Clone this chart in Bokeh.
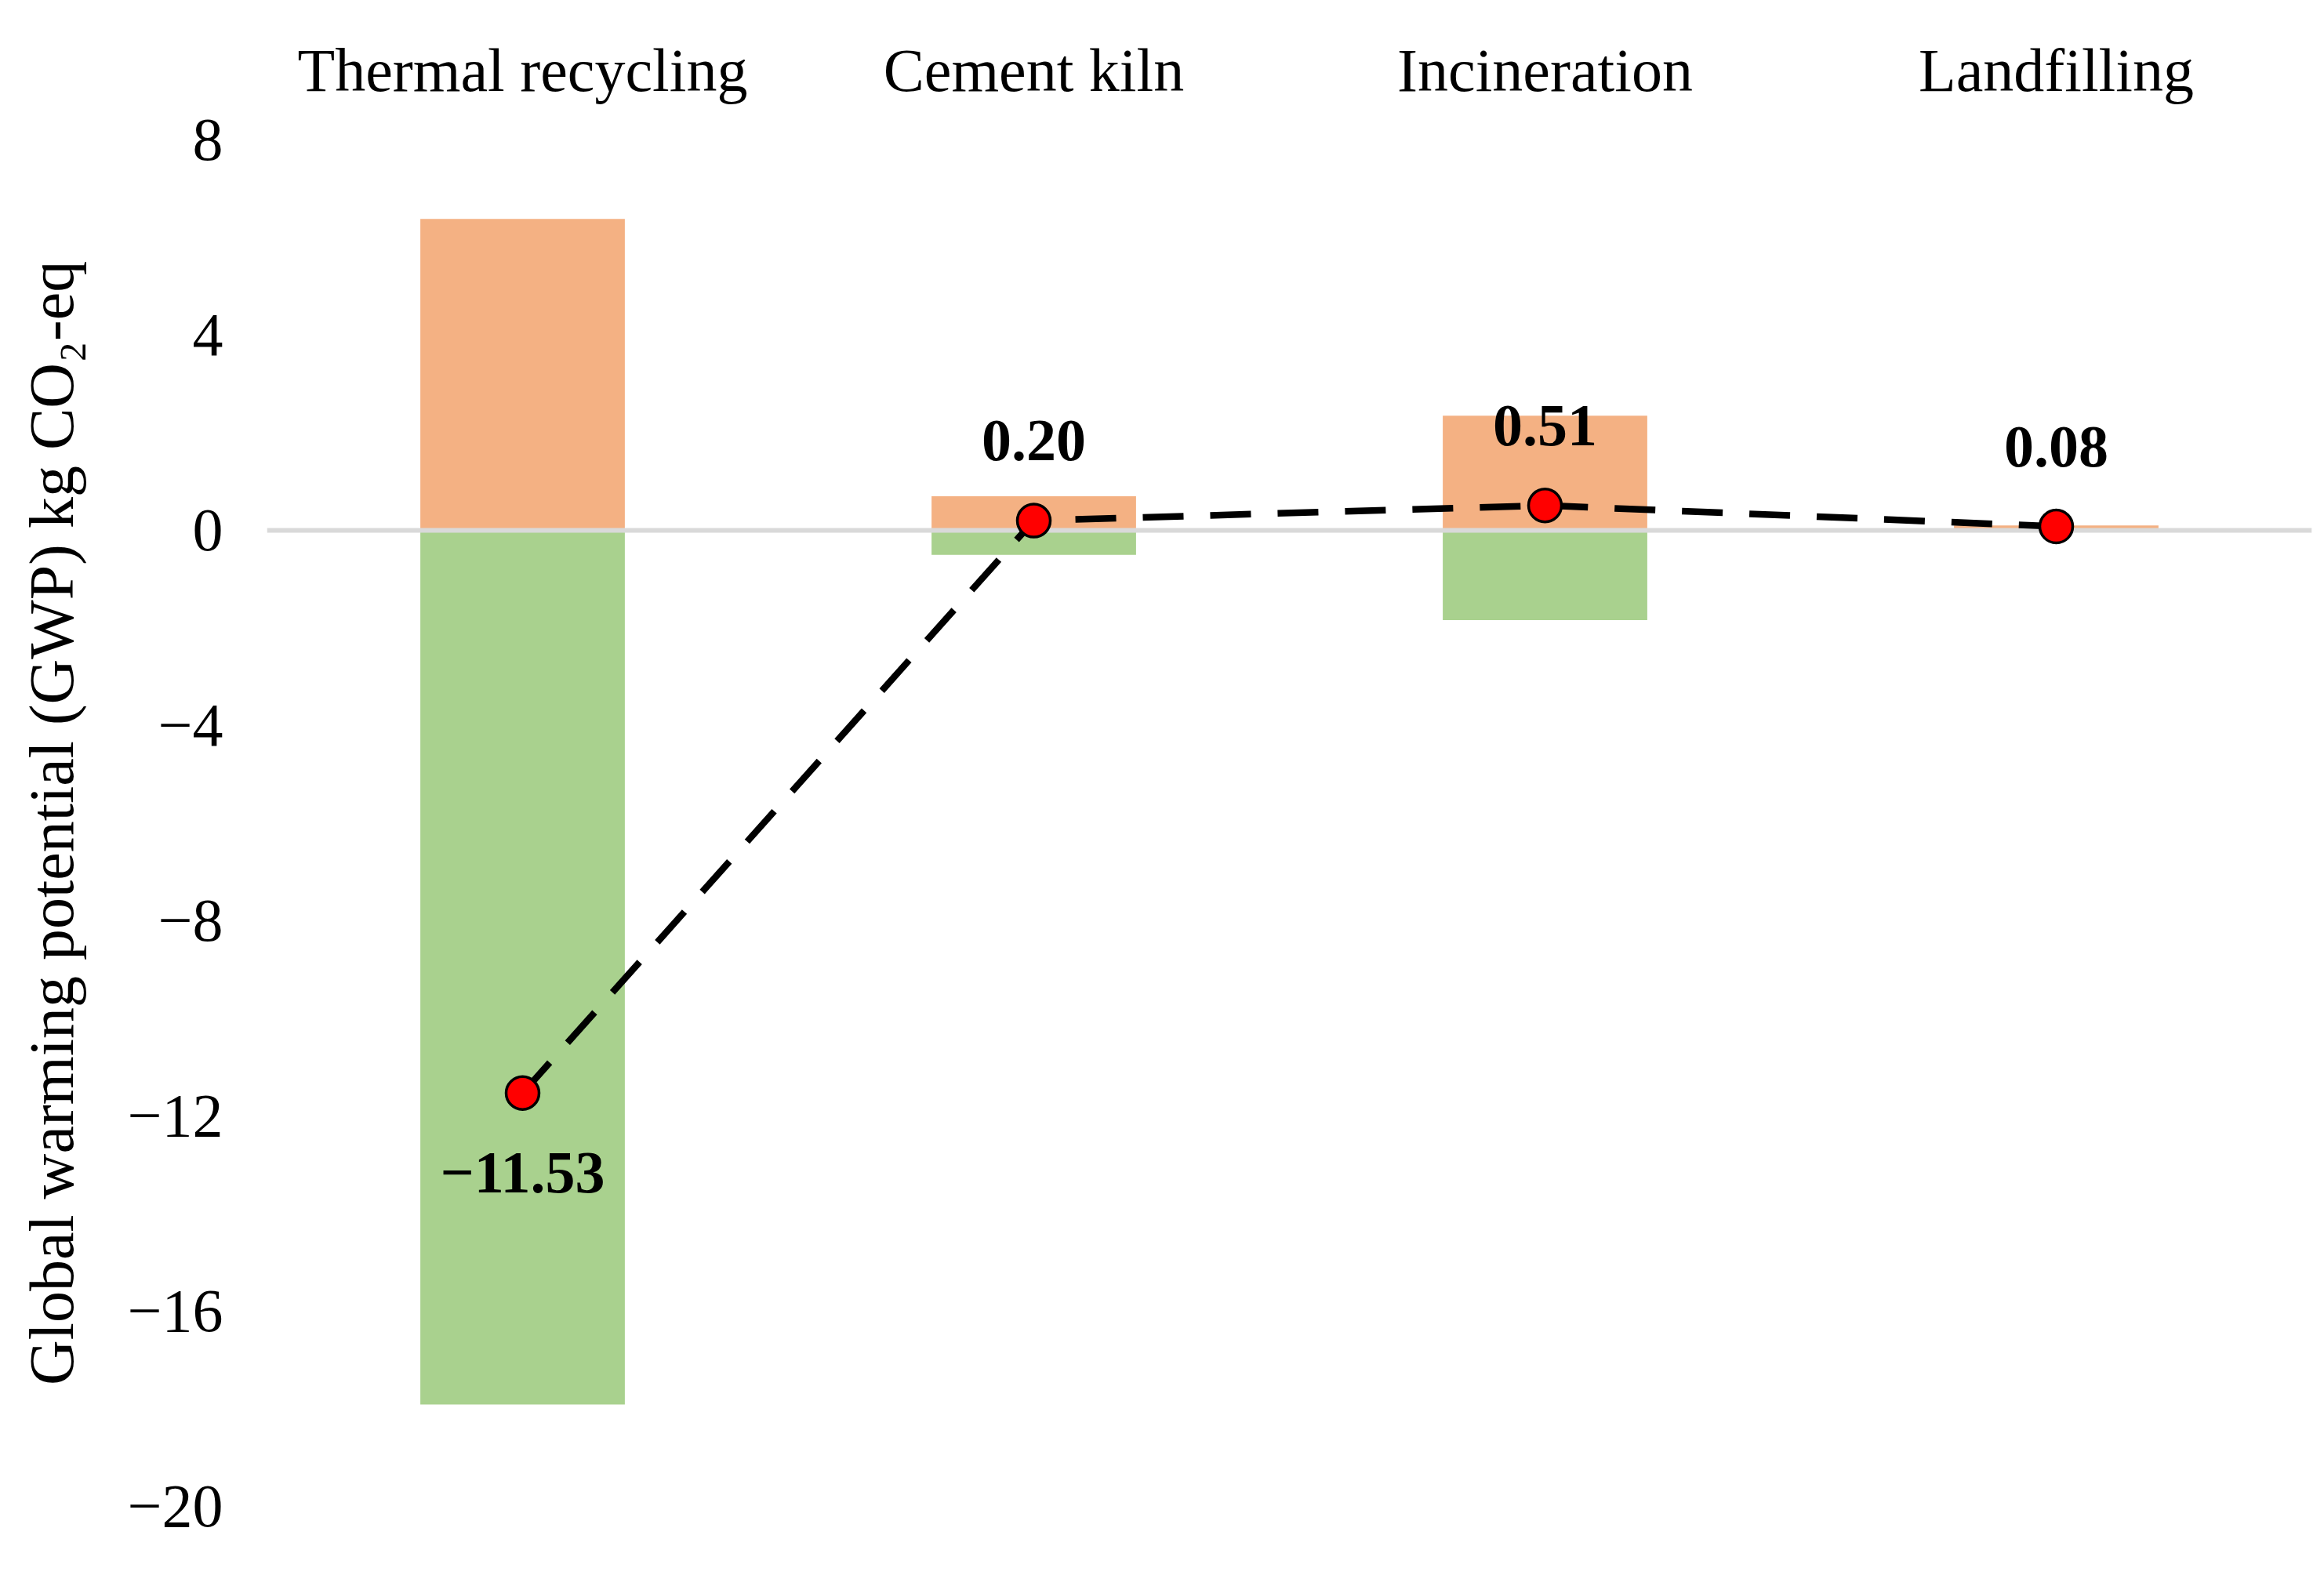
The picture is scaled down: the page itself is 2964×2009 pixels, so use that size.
from bokeh.plotting import figure
from bokeh.models import FactorRange, Range1d, FixedTicker
from bokeh.core.properties import value
from bokeh.embed import file_html
from bokeh.resources import INLINE

categories = ["Thermal recycling", "Cement kiln", "Incineration", "Landfilling"]
burdens = [6.38, 0.70, 2.35, 0.10]      # positive contributions (orange)
credits = [-17.91, -0.50, -1.84, -0.02]  # negative contributions (green)
net = [-11.53, 0.20, 0.51, 0.08]         # net GWP (red points)
y_ticks = [-20, -16, -12, -8, -4, 0, 4, 8]
label_offsets = [102, -102, -102, -102]

FONT = "Liberation Serif"
ORANGE = "#F4B183"
GREEN = "#A9D18E"

def fmt(v, d=0):
    s = f"{v:.{d}f}"
    return s.replace("-", "\u2212")

p = figure(
    x_range=FactorRange(*categories, range_padding=0),
    y_range=Range1d(-20, 8),
    width=2956, height=1993,
    output_backend="svg", toolbar_location=None,
    x_axis_location="above",
    min_border_left=340, min_border_right=8,
    min_border_top=178, min_border_bottom=72,
)

p.vbar(x=categories, top=burdens, bottom=0, width=0.4, fill_color=ORANGE, line_color=None)
p.vbar(x=categories, top=0, bottom=credits, width=0.4, fill_color=GREEN, line_color=None)
p.hspan(y=[0], line_color="#d9d9d9", line_width=6)
p.line(x=categories, y=net, line_color="black", line_width=8.5, line_dash="52 34")
p.scatter(x=categories, y=net, size=42, fill_color="#FF0000", line_color="black", line_width=3.5)
p.text(x=categories, y=net, text=[fmt(v, 2) for v in net], y_offset=label_offsets,
       text_align="center", text_baseline="middle",
       text_font=value(FONT), text_font_style="bold", text_font_size="76px", text_color="black")

p.xgrid.grid_line_color = None
p.ygrid.grid_line_color = None
p.outline_line_color = None
p.background_fill_color = "white"
p.border_fill_color = "white"

xa = p.xaxis[0]
xa.axis_line_color = None
xa.major_tick_line_color = None
xa.minor_tick_line_color = None
xa.major_label_text_font = FONT
xa.major_label_text_font_size = "78px"
xa.major_label_text_color = "black"
xa.major_label_standoff = 40

ya = p.yaxis[0]
ya.ticker = FixedTicker(ticks=y_ticks)
ya.major_label_overrides = {t: fmt(t) for t in y_ticks}
ya.axis_line_color = None
ya.major_tick_line_color = None
ya.minor_tick_line_color = None
ya.major_label_text_font = FONT
ya.major_label_text_font_size = "78px"
ya.major_label_text_color = "black"
ya.major_label_standoff = 50
ya.axis_label = "Global warming potential (GWP) kg CO\u2082-eq"
ya.axis_label_text_font = FONT
ya.axis_label_text_font_style = "normal"
ya.axis_label_text_font_size = "80px"
ya.axis_label_text_color = "black"
ya.axis_label_standoff = 50

open("out.html", "w").write(file_html(p, INLINE))
